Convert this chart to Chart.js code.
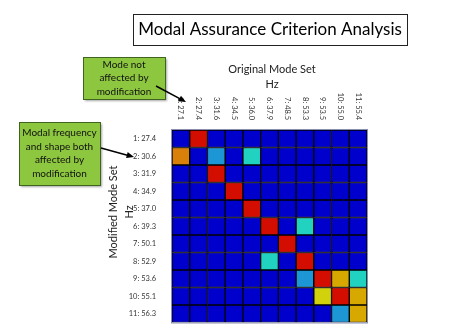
<!DOCTYPE html>
<html>
<head>
<meta charset="utf-8">
<script src="https://cdn.jsdelivr.net/npm/chart.js@4.4.1/dist/chart.umd.min.js"></script>
<style>
  html, body { margin: 0; padding: 0; background: #fff; }
  #wrap { width: 474px; height: 335px; }
</style>
</head>
<body>
<div id="wrap"><canvas id="mac"></canvas></div>
<script>
// original (columns) and modified (rows) mode sets
const originalModes = ['1: 27.1', '2: 27.4', '3: 31.6', '4: 34.5', '5: 36.0', '6: 37.9', '7: 48.5', '8: 53.3', '9: 53.5', '10: 55.0', '11: 55.4'];
const modifiedModes = ['1: 27.4', '2: 30.6', '3: 31.9', '4: 34.9', '5: 37.0', '6: 39.3', '7: 50.1', '8: 52.9', '9: 53.6', '10: 55.1', '11: 56.3'];

// MAC values, one array per modified mode
const mac1  = [0.02, 0.98, 0.02, 0.02, 0.02, 0.02, 0.02, 0.02, 0.02, 0.02, 0.02];
const mac2  = [0.82, 0.02, 0.30, 0.02, 0.40, 0.02, 0.02, 0.02, 0.02, 0.02, 0.02];
const mac3  = [0.02, 0.02, 0.98, 0.02, 0.02, 0.02, 0.02, 0.02, 0.02, 0.02, 0.02];
const mac4  = [0.02, 0.02, 0.02, 0.98, 0.02, 0.02, 0.02, 0.02, 0.02, 0.02, 0.02];
const mac5  = [0.02, 0.02, 0.02, 0.02, 0.98, 0.02, 0.02, 0.02, 0.02, 0.02, 0.02];
const mac6  = [0.02, 0.02, 0.02, 0.02, 0.02, 0.98, 0.02, 0.40, 0.02, 0.02, 0.02];
const mac7  = [0.02, 0.02, 0.02, 0.02, 0.02, 0.02, 0.98, 0.02, 0.02, 0.02, 0.02];
const mac8  = [0.02, 0.02, 0.02, 0.02, 0.02, 0.40, 0.02, 0.98, 0.02, 0.02, 0.02];
const mac9  = [0.02, 0.02, 0.02, 0.02, 0.02, 0.02, 0.02, 0.30, 0.98, 0.70, 0.40];
const mac10 = [0.02, 0.02, 0.02, 0.02, 0.02, 0.02, 0.02, 0.02, 0.60, 0.98, 0.70];
const mac11 = [0.02, 0.02, 0.02, 0.02, 0.02, 0.02, 0.02, 0.02, 0.02, 0.30, 0.70];
const macRows = [mac1, mac2, mac3, mac4, mac5, mac6, mac7, mac8, mac9, mac10, mac11];

// jet-like colour map
const stops = [
  [0.00, [0, 0, 204]],
  [0.15, [0, 0, 210]],
  [0.30, [28, 150, 212]],
  [0.40, [34, 210, 192]],
  [0.60, [210, 210, 12]],
  [0.70, [214, 168, 0]],
  [0.82, [216, 128, 10]],
  [1.00, [210, 0, 0]]
];
function macColor(v) {
  for (let i = 1; i < stops.length; i++) {
    if (v <= stops[i][0]) {
      const [a, ca] = stops[i - 1], [b, cb] = stops[i];
      const t = (v - a) / (b - a);
      const c = ca.map((x, k) => Math.round(x + (cb[k] - x) * t));
      return `rgb(${c[0]},${c[1]},${c[2]})`;
    }
  }
  return 'rgb(210,0,0)';
}

const datasets = macRows.map((row, r) => ({
  label: modifiedModes[r],
  data: row.map(() => [r + 0.5, r + 1.5]),
  backgroundColor: row.map(macColor),
  borderColor: '#000',
  borderWidth: 1,
  borderSkipped: false,
  barPercentage: 1,
  categoryPercentage: 1,
  grouped: false
}));

const FONT = 'Lato, "Open Sans", sans-serif';

function greenBox(ctx, x, y, w, h, lines) {
  ctx.save();
  ctx.shadowColor = 'rgba(0,0,0,0.35)';
  ctx.shadowOffsetX = 2;
  ctx.shadowOffsetY = 2;
  ctx.shadowBlur = 2;
  ctx.fillStyle = '#8dc63f';
  ctx.fillRect(x, y, w, h);
  ctx.restore();
  ctx.strokeStyle = '#3f6420';
  ctx.lineWidth = 1;
  ctx.strokeRect(x + 0.5, y + 0.5, w, h);
  ctx.fillStyle = '#111';
  ctx.font = '10px ' + FONT;
  ctx.textAlign = 'center';
  ctx.textBaseline = 'middle';
  const lh = 13.5;
  const y0 = y + h / 2 - (lines.length - 1) * lh / 2;
  lines.forEach((t, i) => ctx.fillText(t, x + w / 2, y0 + i * lh));
}

function arrow(ctx, x1, y1, x2, y2) {
  const a = Math.atan2(y2 - y1, x2 - x1);
  ctx.strokeStyle = '#000';
  ctx.fillStyle = '#000';
  ctx.lineWidth = 1.5;
  ctx.beginPath();
  ctx.moveTo(x1, y1);
  ctx.lineTo(x2 - 5 * Math.cos(a), y2 - 5 * Math.sin(a));
  ctx.stroke();
  ctx.beginPath();
  ctx.moveTo(x2, y2);
  ctx.lineTo(x2 - 8 * Math.cos(a - 0.4), y2 - 8 * Math.sin(a - 0.4));
  ctx.lineTo(x2 - 8 * Math.cos(a + 0.4), y2 - 8 * Math.sin(a + 0.4));
  ctx.closePath();
  ctx.fill();
}

const decorations = {
  id: 'decorations',
  afterDraw(chart) {
    const { ctx, scales: { x } } = chart;
    const area = chart.chartArea;
    ctx.save();

    // title box
    ctx.strokeStyle = '#222';
    ctx.lineWidth = 1;
    ctx.strokeRect(133.5, 14.5, 274, 31);
    ctx.fillStyle = '#000';
    ctx.font = '17px ' + FONT;
    ctx.textAlign = 'center';
    ctx.textBaseline = 'middle';
    ctx.fillText('Modal Assurance Criterion Analysis', 270, 30);

    // axis titles
    ctx.fillStyle = '#222';
    ctx.font = '11px ' + FONT;
    ctx.fillText('Original Mode Set', 272, 69);
    ctx.fillText('Hz', 272, 84);
    ctx.save();
    ctx.translate(113, 212);
    ctx.rotate(-Math.PI / 2);
    ctx.fillText('Modified Mode Set', 0, 0);
    ctx.fillText('Hz', 0, 16);
    ctx.restore();

    // column labels, turned clockwise
    ctx.font = '7.5px ' + FONT;
    ctx.fillStyle = '#333';
    ctx.textAlign = 'right';
    originalModes.forEach((t, i) => {
      ctx.save();
      ctx.translate(x.getPixelForValue(i), area.top - 10);
      ctx.rotate(Math.PI / 2);
      ctx.fillText(t, 0, 0);
      ctx.restore();
    });

    // outer frame of the grid
    ctx.strokeStyle = '#8a8fb0';
    ctx.lineWidth = 1;
    ctx.strokeRect(area.left - 0.5, area.top - 0.5, area.width + 1, area.height + 1);

    // callouts
    greenBox(ctx, 83, 57, 82, 42, ['Mode not', 'affected by', 'modification']);
    arrow(ctx, 156, 86, 186, 102);
    greenBox(ctx, 19, 122, 81, 63, ['Modal frequency', 'and shape both', 'affected by', 'modification']);
    arrow(ctx, 101, 148, 134, 157);

    ctx.restore();
  }
};

new Chart(document.getElementById('mac'), {
  type: 'bar',
  data: { labels: originalModes, datasets },
  options: {
    responsive: true,
    maintainAspectRatio: false,
    animation: false,
    layout: { padding: { top: 0, left: 0, right: 107, bottom: 9 } },
    plugins: { legend: { display: false }, tooltip: { enabled: false } },
    scales: {
      x: {
        type: 'category',
        position: 'top',
        offset: true,
        grid: { display: false },
        border: { display: false },
        ticks: { display: false },
        afterFit(scale) { scale.height = 130; }
      },
      y: {
        type: 'linear',
        reverse: true,
        min: 0.5,
        max: 11.5,
        grid: { display: false },
        border: { display: false },
        afterBuildTicks(scale) {
          scale.ticks = modifiedModes.map((_, i) => ({ value: i + 1 }));
        },
        ticks: {
          padding: 8,
          color: '#333',
          font: { family: FONT, size: 7.5 },
          callback: (v) => modifiedModes[v - 1]
        },
        afterFit(scale) { scale.width = 172; }
      }
    }
  },
  plugins: [decorations]
});
</script>
</body>
</html>
